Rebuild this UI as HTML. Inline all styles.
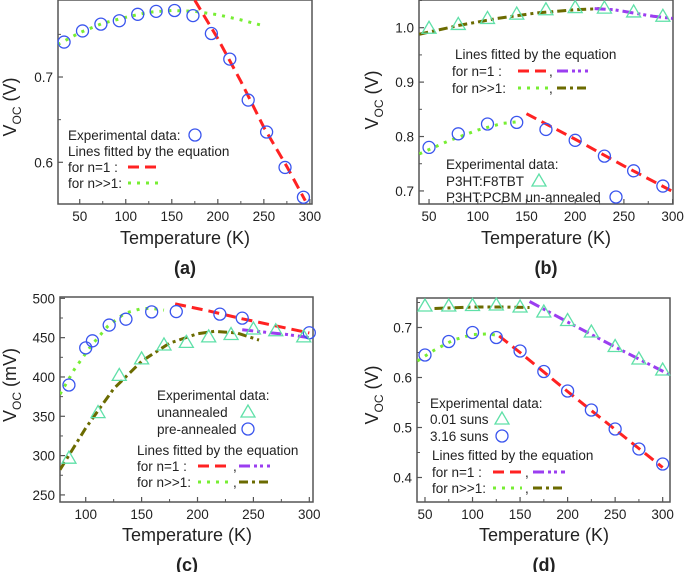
<!DOCTYPE html>
<html><head><meta charset="utf-8"><style>
html,body{margin:0;padding:0;background:#fff}
svg{display:block;font-family:"Liberation Sans",Arial,sans-serif}
</style></head><body>
<svg id="fig" width="685" height="572" viewBox="0 0 685 572" xmlns="http://www.w3.org/2000/svg"></svg>
<script>
// ---------- Panel (a) data ----------
const aCircT=[33,53,73,93,113,133,153,173,193,213,233,253,273,293];
const aCircV=[0.741,0.754,0.762,0.766,0.7735,0.777,0.778,0.772,0.751,0.721,0.673,0.6355,0.594,0.559];
const aRedT=[175,200,225,250,275,295];
const aRedV=[0.790,0.745,0.695,0.641,0.595,0.555];
const aGreenT=[26,50,75,100,125,150,175,200,225,250];
const aGreenV=[0.738,0.752,0.763,0.770,0.776,0.778,0.777,0.773,0.767,0.760];
// ---------- Panel (b) data ----------
const bTriT=[50,80,110,140,170,200,230,260,290];
const bTriV=[0.999,1.006,1.017,1.025,1.033,1.037,1.036,1.029,1.021];
const bCircT=[50,80,110,140,170,200,230,260,290];
const bCircV=[0.780,0.805,0.823,0.826,0.813,0.793,0.764,0.737,0.709];
const bOliveT=[40,80,120,160,200,225];
const bOliveV=[0.988,1.004,1.017,1.027,1.033,1.035];
const bPurpleT=[220,240,260,280,300];
const bPurpleV=[1.035,1.033,1.027,1.021,1.017];
const bGreenT=[40,70,100,125,145];
const bGreenV=[0.768,0.792,0.812,0.824,0.828];
const bRedT=[150,200,250,300];
const bRedV=[0.842,0.795,0.746,0.699];
// ---------- Panel (c) data ----------
const cCircT=[85,100,106,121,136,159,181,220,240,300];
const cCircV=[389.8,437,446,466,473.5,482.8,483.2,479.9,474.8,456.2];
const cTriT=[85,111,130,150,170,190,210,230,250,270,295];
const cTriV=[296.7,354.7,402,423,440.7,444,451,454,461,458.8,451];
const cGreenT=[77,90,105,120,135,150,160,170];
const cGreenV=[378,410,440,465,481,487,487,485];
const cOliveT=[77,100,125,150,175,200,215,235,255];
const cOliveV=[282,335,385,420,443,455,458,456,447];
const cRedT=[180,210,240,270,300];
const cRedV=[493,484,474,465,456];
const cPurpleT=[240,260,280,300];
const cPurpleV=[460,457,454,450];
// ---------- Panel (d) data ----------
const dTriT=[50,75,100,125,150,175,200,225,250,275,300];
const dTriV=[0.743,0.743,0.744,0.745,0.741,0.731,0.714,0.691,0.662,0.637,0.615];
const dCircT=[50,75,100,125,150,175,200,225,250,275,300];
const dCircV=[0.645,0.672,0.690,0.680,0.653,0.612,0.573,0.535,0.497,0.457,0.427];
const dOliveT=[60,100,130,160];
const dOliveV=[0.738,0.741,0.741,0.740];
const dPurpleT=[160,200,250,308];
const dPurpleV=[0.752,0.711,0.661,0.605];
const dGreenT=[42,60,80,100,115,130];
const dGreenV=[0.633,0.655,0.675,0.686,0.687,0.684];
const dRedT=[128,150,200,250,300];
const dRedV=[0.683,0.650,0.572,0.496,0.420];
// ---------- tick labels ----------
const xTicksAB=[50,100,150,200,250,300];
const xTicksC=[100,150,200,250,300];
const yTicksA=["0.6","0.7"];
const yTicksB=["0.7","0.8","0.9","1.0"];
const yTicksC=["250","300","350","400","450","500"];
const yTicksD=["0.4","0.5","0.6","0.7"];

const NS="http://www.w3.org/2000/svg";
const svg=document.getElementById('fig');
const C={blue:'#3a55ee',tri:'#5fe0a8',red:'#ff2222',green:'#77ee33',olive:'#6b6b00',purple:'#9b3ef0'};
const STY={red:'11 6',green:'3 6',olive:'9 4 3 4',purple:'11 4 3 3 3 4'};
function mk(tag,attrs,parent){const e=document.createElementNS(NS,tag);for(const k in attrs)e.setAttribute(k,attrs[k]);(parent||svg).appendChild(e);return e;}
function txt(x,y,s,size,anchor,parent,weight){const t=mk('text',{x:x,y:y,'font-size':size,'text-anchor':anchor||'start',fill:'#222'},parent);if(weight)t.setAttribute('font-weight',weight);t.textContent=s;return t;}

function panel(id,c){
  const g=mk('g',{});
  
  
  const sx=T=>c.left+(T-c.xmin)/(c.xmax-c.xmin)*(c.right-c.left);
  const sy=V=>c.bottom-(V-c.ymin)/(c.ymax-c.ymin)*(c.bottom-c.top);
  const clip=mk('clipPath',{id:'clip'+id},g);
  mk('rect',{x:c.left,y:c.top,width:c.right-c.left,height:c.bottom-c.top},clip);
  const frame=mk('rect',{x:c.left,y:c.top,width:c.right-c.left,height:c.bottom-c.top,fill:'none',stroke:'#555','stroke-width':1.5},g);
  
  
  c.xt.forEach(T=>{
    mk('line',{x1:sx(T),x2:sx(T),y1:c.bottom,y2:c.bottom-5,stroke:'#555','stroke-width':1.2},g);
    const m=T+25; if(m<c.xmax) mk('line',{x1:sx(m),x2:sx(m),y1:c.bottom,y2:c.bottom-3,stroke:'#555','stroke-width':1},g);
    const l=txt(sx(T),c.bottom+17,String(T),13.5,'middle',g);
    
    
  });
  c.yt.forEach(s=>{
    const V=parseFloat(s);
    mk('line',{x1:c.left,x2:c.left+5,y1:sy(V),y2:sy(V),stroke:'#555','stroke-width':1.2},g);
    const m=V+c.ystep/2; if(m<c.ymax) mk('line',{x1:c.left,x2:c.left+3,y1:sy(m),y2:sy(m),stroke:'#555','stroke-width':1},g);
    const l=txt(c.left-5,sy(V)+5,s,13.5,'end',g);
    
    
  });
  const m0=parseFloat(c.yt[0])-c.ystep/2; if(m0>c.ymin) mk('line',{x1:c.left,x2:c.left+3,y1:sy(m0),y2:sy(m0),stroke:'#555','stroke-width':1},g);
  const yt=mk('text',{transform:`translate(${c.ylx},${c.yly}) rotate(-90)`,'font-size':18,'text-anchor':'middle',fill:'#222'},g);
  
  
  yt.innerHTML='V<tspan font-size="12" dy="5">OC</tspan><tspan dy="-5">  '+c.yunit+'</tspan>';
  const xt=txt(c.xlx,c.xly,'Temperature (K)',18,'middle',g);
  
  
  const pl=txt(c.xlx,c.xly+30,'('+id+')',18,'middle',g,'bold');
  
  
  const lg=mk('g',{'clip-path':`url(#clip${id})`},g);
  c.lines.forEach(L=>{
    const p=mk('polyline',{points:L.T.map((t,i)=>sx(t)+','+sy(L.V[i])).join(' '),fill:'none',stroke:C[L.k],'stroke-width':3,'stroke-dasharray':STY[L.k]},lg);
    
    
  });
  c.circ&&c.circ.T.forEach((t,i)=>{
    const e=mk('circle',{cx:sx(t),cy:sy(c.circ.V[i]),r:6,fill:'none',stroke:C.blue,'stroke-width':1.3},g);
    
    
  });
  c.tri&&c.tri.T.forEach((t,i)=>{
    const x=sx(t),y=sy(c.tri.V[i]);
    const e=mk('polygon',{points:`${x},${y-7} ${x-7},${y+5} ${x+7},${y+5}`,fill:'none',stroke:C.tri,'stroke-width':1.3},g);
    
    
  });
  return g;
}
function legLine(x1,x2,y,k){const l=mk('line',{x1:x1,x2:x2,y1:y,y2:y,stroke:C[k],'stroke-width':3,'stroke-dasharray':STY[k]});}
function legCirc(x,y){const e=mk('circle',{cx:x,cy:y,r:6,fill:'none',stroke:C.blue,'stroke-width':1.3});}
function legTri(x,y){const e=mk('polygon',{points:`${x},${y-7} ${x-7},${y+5} ${x+7},${y+5}`,fill:'none',stroke:C.tri,'stroke-width':1.3});}
function legTxt(x,y,s){const t=txt(x,y+5,s,13.5,'start');return t;}

panel('a',{left:58,right:312,top:0,bottom:204,xmin:26.4,xmax:302.3,ymin:0.5511,ymax:0.7903,ystep:0.1,xt:xTicksAB,yt:yTicksA,
  ylx:16,yly:107,yunit:'(V)',xlx:185,xly:244,
  lines:[{T:aGreenT,V:aGreenV,k:'green'},{T:aRedT,V:aRedV,k:'red'}],circ:{T:aCircT,V:aCircV}});
panel('b',{left:419,right:673,top:0,bottom:204,xmin:39.7,xmax:300.4,ymin:0.676,ymax:1.0509,ystep:0.1,xt:xTicksAB,yt:yTicksB,
  ylx:378,yly:100,yunit:'(V)',xlx:546,xly:244,
  lines:[{T:bOliveT,V:bOliveV,k:'olive'},{T:bPurpleT,V:bPurpleV,k:'purple'},{T:bGreenT,V:bGreenV,k:'green'},{T:bRedT,V:bRedV,k:'red'}],
  circ:{T:bCircT,V:bCircV},tri:{T:bTriT,V:bTriV}});
panel('c',{left:60,right:313,top:297,bottom:502,xmin:77,xmax:303.3,ymin:241,ymax:501.7,ystep:50,xt:xTicksC,yt:yTicksC,
  ylx:16,yly:385,yunit:'(mV)',xlx:187,xly:541,
  lines:[{T:cGreenT,V:cGreenV,k:'green'},{T:cOliveT,V:cOliveV,k:'olive'},{T:cRedT,V:cRedV,k:'red'},{T:cPurpleT,V:cPurpleV,k:'purple'}],
  circ:{T:cCircT,V:cCircV},tri:{T:cTriT,V:cTriV}});
panel('d',{left:417,right:670,top:298,bottom:502,xmin:41.6,xmax:307.7,ymin:0.351,ymax:0.759,ystep:0.1,xt:xTicksAB,yt:yTicksD,
  ylx:378,yly:395,yunit:'(V)',xlx:544,xly:541,
  lines:[{T:dOliveT,V:dOliveV,k:'olive'},{T:dPurpleT,V:dPurpleV,k:'purple'},{T:dGreenT,V:dGreenV,k:'green'},{T:dRedT,V:dRedV,k:'red'}],
  circ:{T:dCircT,V:dCircV},tri:{T:dTriT,V:dTriV}});

// legend a
legTxt(68,135,'Experimental data:');legCirc(195,135);
legTxt(68,151,'Lines fitted by the equation');
legTxt(68,167,'for n=1  :');legLine(128,160,167,'red');
legTxt(68,183,'for n>>1:');legLine(128,160,183,'green');
// legend b
legTxt(455,54,'Lines fitted by the equation');
legTxt(452,71,'for n=1  :');legLine(518,548,71,'red');legTxt(549,71,',');legLine(557,588,71,'purple');
legTxt(452,88,'for n>>1:');legLine(518,548,88,'green');legTxt(549,88,',');legLine(557,588,88,'olive');
legTxt(446,164,'Experimental data:');
legTxt(446,181,'P3HT:F8TBT');legTri(539,181);
legTxt(446,197,'P3HT:PCBM un-annealed');legCirc(616,197);
// legend c
legTxt(157,395,'Experimental data:');
legTxt(157,412,'unannealed');legTri(248,412);
legTxt(157,429,'pre-annealed');legCirc(248,429);
legTxt(137,450,'Lines fitted by the equation');
legTxt(137,466,'for n=1  :');legLine(198,230,466,'red');legTxt(233,466,',');legLine(239,270,466,'purple');
legTxt(137,482,'for n>>1:');legLine(198,230,482,'green');legTxt(233,482,',');legLine(239,270,482,'olive');
// legend d
legTxt(430,403,'Experimental data:');
legTxt(430,419,'0.01 suns');legTri(502,419);
legTxt(430,436,'3.16 suns');legCirc(502,436);
legTxt(432,455,'Lines fitted by the equation');
legTxt(432,472,'for n=1  :');legLine(493,522,472,'red');legTxt(525,472,',');legLine(533,565,472,'purple');
legTxt(432,488,'for n>>1:');legLine(493,522,488,'green');legTxt(525,488,',');legLine(533,565,488,'olive');
</script>
</body></html>
